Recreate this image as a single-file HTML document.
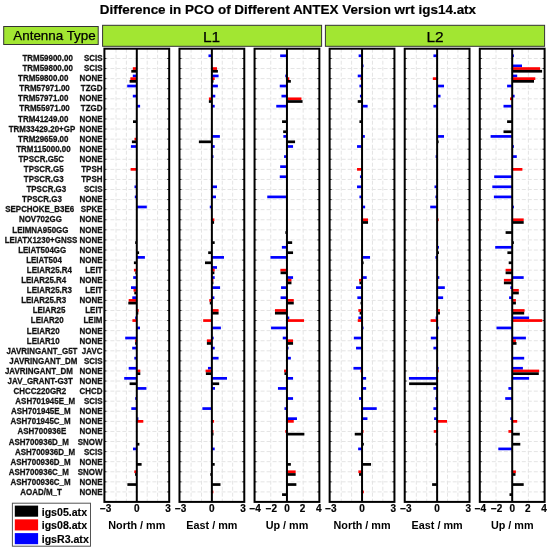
<!DOCTYPE html><html><head><meta charset="utf-8"><style>html,body{margin:0;padding:0;background:#fff;width:549px;height:550px;overflow:hidden}svg{display:block}text{font-family:"Liberation Sans",Arial,sans-serif}</style></head><body>
<svg width="549" height="550" viewBox="0 0 549 550">
<text x="99.8" y="13.9" font-size="13.6" font-weight="bold" fill="#000" stroke="#000" stroke-width="0.2" textLength="376.3" lengthAdjust="spacingAndGlyphs">Difference in PCO of Different ANTEX Version wrt igs14.atx</text>
<rect x="3.7" y="26.5" width="94.5" height="18" fill="#a2e632" stroke="#333" stroke-width="1"/>
<text x="54.5" y="39.8" font-size="13.4" text-anchor="middle" fill="#000" stroke="#000" stroke-width="0.25">Antenna Type</text>
<rect x="102.6" y="25.3" width="219" height="21" fill="#a2e632" stroke="#333" stroke-width="1"/>
<text x="211.6" y="41.6" font-size="15.5" text-anchor="middle" fill="#000" stroke="#000" stroke-width="0.25">L1</text>
<rect x="325.4" y="25.3" width="219.2" height="21" fill="#a2e632" stroke="#333" stroke-width="1"/>
<text x="435" y="41.6" font-size="15.5" text-anchor="middle" fill="#000" stroke="#000" stroke-width="0.25">L2</text>
<path d="M116 48.7V501.9M126.4 48.7V501.9M147.2 48.7V501.9M157.6 48.7V501.9M104.4 58.48H169.2M104.4 68.56H169.2M104.4 78.64H169.2M104.4 88.72H169.2M104.4 98.8H169.2M104.4 108.88H169.2M104.4 118.96H169.2M104.4 129.04H169.2M104.4 139.12H169.2M104.4 149.2H169.2M104.4 159.28H169.2M104.4 169.36H169.2M104.4 179.44H169.2M104.4 189.52H169.2M104.4 199.6H169.2M104.4 209.68H169.2M104.4 219.76H169.2M104.4 229.84H169.2M104.4 239.92H169.2M104.4 250H169.2M104.4 260.08H169.2M104.4 270.16H169.2M104.4 280.24H169.2M104.4 290.32H169.2M104.4 300.4H169.2M104.4 310.48H169.2M104.4 320.56H169.2M104.4 330.64H169.2M104.4 340.72H169.2M104.4 350.8H169.2M104.4 360.88H169.2M104.4 370.96H169.2M104.4 381.04H169.2M104.4 391.12H169.2M104.4 401.2H169.2M104.4 411.28H169.2M104.4 421.36H169.2M104.4 431.44H169.2M104.4 441.52H169.2M104.4 451.6H169.2M104.4 461.68H169.2M104.4 471.76H169.2M104.4 481.84H169.2M104.4 491.92H169.2" stroke="#e4e4e4" stroke-width="1" stroke-dasharray="4 2" fill="none"/>
<rect x="132.8" y="67.21" width="4" height="2.7" fill="#f00"/>
<rect x="131.3" y="69.91" width="5.5" height="2.7" fill="#000"/>
<rect x="132.8" y="74.59" width="4" height="2.7" fill="#00f"/>
<rect x="130.4" y="77.29" width="6.4" height="2.7" fill="#f00"/>
<rect x="129.6" y="79.99" width="7.2" height="2.7" fill="#000"/>
<rect x="127.2" y="84.67" width="9.6" height="2.7" fill="#00f"/>
<rect x="132.8" y="94.75" width="4" height="2.7" fill="#00f"/>
<rect x="136.8" y="104.83" width="3.3" height="2.7" fill="#00f"/>
<rect x="133" y="120.31" width="3.8" height="2.7" fill="#000"/>
<rect x="134.5" y="137.77" width="2.3" height="2.7" fill="#f00"/>
<rect x="131.9" y="140.47" width="4.9" height="2.7" fill="#000"/>
<rect x="130.9" y="145.15" width="5.9" height="2.7" fill="#00f"/>
<rect x="130.6" y="168.01" width="6.2" height="2.7" fill="#f00"/>
<rect x="134.5" y="185.47" width="2.3" height="2.7" fill="#00f"/>
<rect x="134.8" y="195.55" width="2" height="2.7" fill="#00f"/>
<rect x="136.8" y="205.63" width="10" height="2.7" fill="#00f"/>
<rect x="135.2" y="241.27" width="1.6" height="2.7" fill="#000"/>
<rect x="136.8" y="251.35" width="2.3" height="2.7" fill="#000"/>
<rect x="136.8" y="256.03" width="8.1" height="2.7" fill="#00f"/>
<rect x="133.9" y="261.43" width="2.9" height="2.7" fill="#000"/>
<rect x="133.9" y="268.81" width="2.9" height="2.7" fill="#f00"/>
<rect x="135.4" y="271.51" width="1.4" height="2.7" fill="#000"/>
<rect x="133.2" y="276.19" width="3.6" height="2.7" fill="#00f"/>
<rect x="131" y="286.27" width="5.8" height="2.7" fill="#00f"/>
<rect x="133.5" y="288.97" width="3.3" height="2.7" fill="#f00"/>
<rect x="134.3" y="291.67" width="2.5" height="2.7" fill="#000"/>
<rect x="132.3" y="296.35" width="4.5" height="2.7" fill="#00f"/>
<rect x="128.7" y="299.05" width="8.1" height="2.7" fill="#f00"/>
<rect x="128.3" y="301.75" width="8.5" height="2.7" fill="#000"/>
<rect x="136.8" y="309.13" width="1.9" height="2.7" fill="#f00"/>
<rect x="136.8" y="311.83" width="1.5" height="2.7" fill="#000"/>
<rect x="135.2" y="316.51" width="1.6" height="2.7" fill="#00f"/>
<rect x="132.4" y="319.21" width="4.4" height="2.7" fill="#f00"/>
<rect x="136.8" y="326.59" width="3.2" height="2.7" fill="#00f"/>
<rect x="125.2" y="336.67" width="11.6" height="2.7" fill="#00f"/>
<rect x="135.2" y="339.37" width="1.6" height="2.7" fill="#f00"/>
<rect x="135.2" y="342.07" width="1.6" height="2.7" fill="#000"/>
<rect x="132.2" y="346.75" width="4.6" height="2.7" fill="#00f"/>
<rect x="134.3" y="356.83" width="2.5" height="2.7" fill="#00f"/>
<rect x="128.7" y="366.91" width="8.1" height="2.7" fill="#00f"/>
<rect x="136.8" y="369.61" width="3.5" height="2.7" fill="#f00"/>
<rect x="136.8" y="372.31" width="3.5" height="2.7" fill="#000"/>
<rect x="124.2" y="376.99" width="12.6" height="2.7" fill="#00f"/>
<rect x="129.6" y="382.39" width="7.2" height="2.7" fill="#000"/>
<rect x="136.8" y="387.07" width="9.6" height="2.7" fill="#00f"/>
<rect x="135.2" y="397.15" width="1.6" height="2.7" fill="#00f"/>
<rect x="131.3" y="407.23" width="5.5" height="2.7" fill="#00f"/>
<rect x="136.8" y="417.31" width="1.6" height="2.7" fill="#00f"/>
<rect x="136.8" y="420.01" width="6.5" height="2.7" fill="#f00"/>
<rect x="136.8" y="442.87" width="2.6" height="2.7" fill="#000"/>
<rect x="133" y="447.55" width="3.8" height="2.7" fill="#00f"/>
<rect x="136.8" y="463.03" width="4.8" height="2.7" fill="#000"/>
<rect x="134.3" y="470.41" width="2.5" height="2.7" fill="#f00"/>
<rect x="135.1" y="473.11" width="1.7" height="2.7" fill="#000"/>
<rect x="127.4" y="483.19" width="9.4" height="2.7" fill="#000"/>
<path d="M104.4 58.48h2M169.2 58.48h-2M104.4 68.56h2M169.2 68.56h-2M104.4 78.64h2M169.2 78.64h-2M104.4 88.72h2M169.2 88.72h-2M104.4 98.8h2M169.2 98.8h-2M104.4 108.88h2M169.2 108.88h-2M104.4 118.96h2M169.2 118.96h-2M104.4 129.04h2M169.2 129.04h-2M104.4 139.12h2M169.2 139.12h-2M104.4 149.2h2M169.2 149.2h-2M104.4 159.28h2M169.2 159.28h-2M104.4 169.36h2M169.2 169.36h-2M104.4 179.44h2M169.2 179.44h-2M104.4 189.52h2M169.2 189.52h-2M104.4 199.6h2M169.2 199.6h-2M104.4 209.68h2M169.2 209.68h-2M104.4 219.76h2M169.2 219.76h-2M104.4 229.84h2M169.2 229.84h-2M104.4 239.92h2M169.2 239.92h-2M104.4 250h2M169.2 250h-2M104.4 260.08h2M169.2 260.08h-2M104.4 270.16h2M169.2 270.16h-2M104.4 280.24h2M169.2 280.24h-2M104.4 290.32h2M169.2 290.32h-2M104.4 300.4h2M169.2 300.4h-2M104.4 310.48h2M169.2 310.48h-2M104.4 320.56h2M169.2 320.56h-2M104.4 330.64h2M169.2 330.64h-2M104.4 340.72h2M169.2 340.72h-2M104.4 350.8h2M169.2 350.8h-2M104.4 360.88h2M169.2 360.88h-2M104.4 370.96h2M169.2 370.96h-2M104.4 381.04h2M169.2 381.04h-2M104.4 391.12h2M169.2 391.12h-2M104.4 401.2h2M169.2 401.2h-2M104.4 411.28h2M169.2 411.28h-2M104.4 421.36h2M169.2 421.36h-2M104.4 431.44h2M169.2 431.44h-2M104.4 441.52h2M169.2 441.52h-2M104.4 451.6h2M169.2 451.6h-2M104.4 461.68h2M169.2 461.68h-2M104.4 471.76h2M169.2 471.76h-2M104.4 481.84h2M169.2 481.84h-2M104.4 491.92h2M169.2 491.92h-2" stroke="#000" stroke-width="0.8" fill="none"/>
<path d="M136.8 48.7V501.9" stroke="#000" stroke-width="2"/>
<rect x="104.4" y="48.7" width="64.8" height="453.2" fill="none" stroke="#000" stroke-width="2"/>
<text x="105.6" y="512.3" font-size="10" font-weight="bold" text-anchor="middle" fill="#000" stroke="#000" stroke-width="0.2">−3</text>
<text x="136.8" y="512.3" font-size="10" font-weight="bold" text-anchor="middle" fill="#000" stroke="#000" stroke-width="0.2">0</text>
<text x="168" y="512.3" font-size="10" font-weight="bold" text-anchor="middle" fill="#000" stroke="#000" stroke-width="0.2">3</text>
<text x="136.8" y="529" font-size="10.8" font-weight="bold" text-anchor="middle" fill="#000">North / mm</text>
<path d="M191.08 48.7V501.9M201.48 48.7V501.9M222.28 48.7V501.9M232.68 48.7V501.9M179.48 58.48H244.28M179.48 68.56H244.28M179.48 78.64H244.28M179.48 88.72H244.28M179.48 98.8H244.28M179.48 108.88H244.28M179.48 118.96H244.28M179.48 129.04H244.28M179.48 139.12H244.28M179.48 149.2H244.28M179.48 159.28H244.28M179.48 169.36H244.28M179.48 179.44H244.28M179.48 189.52H244.28M179.48 199.6H244.28M179.48 209.68H244.28M179.48 219.76H244.28M179.48 229.84H244.28M179.48 239.92H244.28M179.48 250H244.28M179.48 260.08H244.28M179.48 270.16H244.28M179.48 280.24H244.28M179.48 290.32H244.28M179.48 300.4H244.28M179.48 310.48H244.28M179.48 320.56H244.28M179.48 330.64H244.28M179.48 340.72H244.28M179.48 350.8H244.28M179.48 360.88H244.28M179.48 370.96H244.28M179.48 381.04H244.28M179.48 391.12H244.28M179.48 401.2H244.28M179.48 411.28H244.28M179.48 421.36H244.28M179.48 431.44H244.28M179.48 441.52H244.28M179.48 451.6H244.28M179.48 461.68H244.28M179.48 471.76H244.28M179.48 481.84H244.28M179.48 491.92H244.28" stroke="#e4e4e4" stroke-width="1" stroke-dasharray="4 2" fill="none"/>
<rect x="208.48" y="54.43" width="3.4" height="2.7" fill="#00f"/>
<rect x="211.88" y="67.21" width="5.1" height="2.7" fill="#f00"/>
<rect x="211.88" y="69.91" width="6" height="2.7" fill="#000"/>
<rect x="211.88" y="74.59" width="6.7" height="2.7" fill="#00f"/>
<rect x="211.88" y="77.29" width="2.8" height="2.7" fill="#f00"/>
<rect x="211.88" y="79.99" width="1.6" height="2.7" fill="#000"/>
<rect x="211.88" y="84.67" width="6" height="2.7" fill="#00f"/>
<rect x="211.88" y="94.75" width="3.4" height="2.7" fill="#00f"/>
<rect x="208.88" y="97.45" width="3" height="2.7" fill="#f00"/>
<rect x="208.88" y="100.15" width="3" height="2.7" fill="#000"/>
<rect x="211.88" y="104.83" width="2.8" height="2.7" fill="#00f"/>
<rect x="211.88" y="135.07" width="8" height="2.7" fill="#00f"/>
<rect x="198.88" y="140.47" width="13" height="2.7" fill="#000"/>
<rect x="211.88" y="145.15" width="2.8" height="2.7" fill="#00f"/>
<rect x="211.88" y="155.23" width="1.6" height="2.7" fill="#00f"/>
<rect x="211.88" y="185.47" width="5.1" height="2.7" fill="#00f"/>
<rect x="211.88" y="195.55" width="4.1" height="2.7" fill="#00f"/>
<rect x="209.78" y="205.63" width="2.1" height="2.7" fill="#00f"/>
<rect x="211.88" y="218.41" width="2.5" height="2.7" fill="#f00"/>
<rect x="211.88" y="221.11" width="2.2" height="2.7" fill="#000"/>
<rect x="211.88" y="241.27" width="2.8" height="2.7" fill="#000"/>
<rect x="208.18" y="251.35" width="3.7" height="2.7" fill="#000"/>
<rect x="211.88" y="256.03" width="12.1" height="2.7" fill="#00f"/>
<rect x="204.98" y="261.43" width="6.9" height="2.7" fill="#000"/>
<rect x="211.88" y="266.11" width="5.1" height="2.7" fill="#00f"/>
<rect x="211.88" y="268.81" width="2.8" height="2.7" fill="#f00"/>
<rect x="211.88" y="271.51" width="2.5" height="2.7" fill="#000"/>
<rect x="211.88" y="276.19" width="2.8" height="2.7" fill="#00f"/>
<rect x="211.88" y="278.89" width="1.5" height="2.7" fill="#f00"/>
<rect x="211.88" y="281.59" width="1.5" height="2.7" fill="#000"/>
<rect x="211.88" y="286.27" width="8.2" height="2.7" fill="#00f"/>
<rect x="211.88" y="296.35" width="2.5" height="2.7" fill="#00f"/>
<rect x="209.28" y="299.05" width="2.6" height="2.7" fill="#f00"/>
<rect x="209.78" y="301.75" width="2.1" height="2.7" fill="#000"/>
<rect x="211.88" y="309.13" width="6.7" height="2.7" fill="#f00"/>
<rect x="211.88" y="311.83" width="6.7" height="2.7" fill="#000"/>
<rect x="203.18" y="319.21" width="8.7" height="2.7" fill="#f00"/>
<rect x="211.88" y="326.59" width="9" height="2.7" fill="#00f"/>
<rect x="211.88" y="336.67" width="1.8" height="2.7" fill="#00f"/>
<rect x="206.88" y="339.37" width="5" height="2.7" fill="#f00"/>
<rect x="206.88" y="342.07" width="5" height="2.7" fill="#000"/>
<rect x="211.88" y="346.75" width="2.8" height="2.7" fill="#00f"/>
<rect x="211.88" y="356.83" width="6.7" height="2.7" fill="#00f"/>
<rect x="207.98" y="366.91" width="3.9" height="2.7" fill="#00f"/>
<rect x="205.58" y="369.61" width="6.3" height="2.7" fill="#f00"/>
<rect x="205.88" y="372.31" width="6" height="2.7" fill="#000"/>
<rect x="211.88" y="376.99" width="15.1" height="2.7" fill="#00f"/>
<rect x="211.88" y="382.39" width="7.3" height="2.7" fill="#000"/>
<rect x="211.88" y="387.07" width="3.1" height="2.7" fill="#00f"/>
<rect x="202.38" y="407.23" width="9.5" height="2.7" fill="#00f"/>
<rect x="211.88" y="420.01" width="2.2" height="2.7" fill="#f00"/>
<rect x="211.88" y="430.09" width="1.6" height="2.7" fill="#f00"/>
<rect x="211.88" y="432.79" width="1.6" height="2.7" fill="#000"/>
<rect x="211.88" y="447.55" width="2.8" height="2.7" fill="#00f"/>
<rect x="211.88" y="463.03" width="2.8" height="2.7" fill="#000"/>
<rect x="210.28" y="473.11" width="1.6" height="2.7" fill="#000"/>
<rect x="211.88" y="483.19" width="8.6" height="2.7" fill="#000"/>
<rect x="211.88" y="490.57" width="1.5" height="2.7" fill="#f00"/>
<path d="M179.48 58.48h2M244.28 58.48h-2M179.48 68.56h2M244.28 68.56h-2M179.48 78.64h2M244.28 78.64h-2M179.48 88.72h2M244.28 88.72h-2M179.48 98.8h2M244.28 98.8h-2M179.48 108.88h2M244.28 108.88h-2M179.48 118.96h2M244.28 118.96h-2M179.48 129.04h2M244.28 129.04h-2M179.48 139.12h2M244.28 139.12h-2M179.48 149.2h2M244.28 149.2h-2M179.48 159.28h2M244.28 159.28h-2M179.48 169.36h2M244.28 169.36h-2M179.48 179.44h2M244.28 179.44h-2M179.48 189.52h2M244.28 189.52h-2M179.48 199.6h2M244.28 199.6h-2M179.48 209.68h2M244.28 209.68h-2M179.48 219.76h2M244.28 219.76h-2M179.48 229.84h2M244.28 229.84h-2M179.48 239.92h2M244.28 239.92h-2M179.48 250h2M244.28 250h-2M179.48 260.08h2M244.28 260.08h-2M179.48 270.16h2M244.28 270.16h-2M179.48 280.24h2M244.28 280.24h-2M179.48 290.32h2M244.28 290.32h-2M179.48 300.4h2M244.28 300.4h-2M179.48 310.48h2M244.28 310.48h-2M179.48 320.56h2M244.28 320.56h-2M179.48 330.64h2M244.28 330.64h-2M179.48 340.72h2M244.28 340.72h-2M179.48 350.8h2M244.28 350.8h-2M179.48 360.88h2M244.28 360.88h-2M179.48 370.96h2M244.28 370.96h-2M179.48 381.04h2M244.28 381.04h-2M179.48 391.12h2M244.28 391.12h-2M179.48 401.2h2M244.28 401.2h-2M179.48 411.28h2M244.28 411.28h-2M179.48 421.36h2M244.28 421.36h-2M179.48 431.44h2M244.28 431.44h-2M179.48 441.52h2M244.28 441.52h-2M179.48 451.6h2M244.28 451.6h-2M179.48 461.68h2M244.28 461.68h-2M179.48 471.76h2M244.28 471.76h-2M179.48 481.84h2M244.28 481.84h-2M179.48 491.92h2M244.28 491.92h-2" stroke="#000" stroke-width="0.8" fill="none"/>
<path d="M211.88 48.7V501.9" stroke="#000" stroke-width="2"/>
<rect x="179.48" y="48.7" width="64.8" height="453.2" fill="none" stroke="#000" stroke-width="2"/>
<text x="180.68" y="512.3" font-size="10" font-weight="bold" text-anchor="middle" fill="#000" stroke="#000" stroke-width="0.2">−3</text>
<text x="211.88" y="512.3" font-size="10" font-weight="bold" text-anchor="middle" fill="#000" stroke="#000" stroke-width="0.2">0</text>
<text x="243.08" y="512.3" font-size="10" font-weight="bold" text-anchor="middle" fill="#000" stroke="#000" stroke-width="0.2">3</text>
<text x="211.88" y="529" font-size="10.8" font-weight="bold" text-anchor="middle" fill="#000">East / mm</text>
<path d="M270.76 48.7V501.9M303.16 48.7V501.9M254.56 58.48H319.36M254.56 68.56H319.36M254.56 78.64H319.36M254.56 88.72H319.36M254.56 98.8H319.36M254.56 108.88H319.36M254.56 118.96H319.36M254.56 129.04H319.36M254.56 139.12H319.36M254.56 149.2H319.36M254.56 159.28H319.36M254.56 169.36H319.36M254.56 179.44H319.36M254.56 189.52H319.36M254.56 199.6H319.36M254.56 209.68H319.36M254.56 219.76H319.36M254.56 229.84H319.36M254.56 239.92H319.36M254.56 250H319.36M254.56 260.08H319.36M254.56 270.16H319.36M254.56 280.24H319.36M254.56 290.32H319.36M254.56 300.4H319.36M254.56 310.48H319.36M254.56 320.56H319.36M254.56 330.64H319.36M254.56 340.72H319.36M254.56 350.8H319.36M254.56 360.88H319.36M254.56 370.96H319.36M254.56 381.04H319.36M254.56 391.12H319.36M254.56 401.2H319.36M254.56 411.28H319.36M254.56 421.36H319.36M254.56 431.44H319.36M254.56 441.52H319.36M254.56 451.6H319.36M254.56 461.68H319.36M254.56 471.76H319.36M254.56 481.84H319.36M254.56 491.92H319.36" stroke="#e4e4e4" stroke-width="1" stroke-dasharray="4 2" fill="none"/>
<rect x="280.16" y="54.43" width="6.8" height="2.7" fill="#00f"/>
<rect x="285.26" y="74.59" width="1.7" height="2.7" fill="#00f"/>
<rect x="286.96" y="77.29" width="2.3" height="2.7" fill="#f00"/>
<rect x="286.96" y="79.99" width="3.9" height="2.7" fill="#000"/>
<rect x="279.76" y="84.67" width="7.2" height="2.7" fill="#00f"/>
<rect x="281.46" y="94.75" width="5.5" height="2.7" fill="#00f"/>
<rect x="286.96" y="97.45" width="14.5" height="2.7" fill="#f00"/>
<rect x="286.96" y="100.15" width="15.6" height="2.7" fill="#000"/>
<rect x="276.26" y="104.83" width="10.7" height="2.7" fill="#00f"/>
<rect x="282.06" y="120.31" width="4.9" height="2.7" fill="#000"/>
<rect x="283.16" y="130.39" width="3.8" height="2.7" fill="#000"/>
<rect x="283.36" y="135.07" width="3.6" height="2.7" fill="#00f"/>
<rect x="286.96" y="140.47" width="8.1" height="2.7" fill="#000"/>
<rect x="286.96" y="145.15" width="6.1" height="2.7" fill="#00f"/>
<rect x="284.06" y="155.23" width="2.9" height="2.7" fill="#00f"/>
<rect x="280.16" y="165.31" width="6.8" height="2.7" fill="#00f"/>
<rect x="279.76" y="175.39" width="7.2" height="2.7" fill="#00f"/>
<rect x="267.26" y="195.55" width="19.7" height="2.7" fill="#00f"/>
<rect x="285.36" y="231.19" width="1.6" height="2.7" fill="#000"/>
<rect x="286.96" y="241.27" width="5.2" height="2.7" fill="#000"/>
<rect x="281.86" y="245.95" width="5.1" height="2.7" fill="#00f"/>
<rect x="286.96" y="251.35" width="6.1" height="2.7" fill="#000"/>
<rect x="270.46" y="256.03" width="16.5" height="2.7" fill="#00f"/>
<rect x="280.36" y="268.81" width="6.6" height="2.7" fill="#f00"/>
<rect x="280.56" y="271.51" width="6.4" height="2.7" fill="#000"/>
<rect x="286.96" y="276.19" width="6.1" height="2.7" fill="#00f"/>
<rect x="286.96" y="278.89" width="4.5" height="2.7" fill="#f00"/>
<rect x="286.96" y="281.59" width="4.5" height="2.7" fill="#000"/>
<rect x="281.06" y="286.27" width="5.9" height="2.7" fill="#00f"/>
<rect x="280.56" y="296.35" width="6.4" height="2.7" fill="#00f"/>
<rect x="286.96" y="299.05" width="6.8" height="2.7" fill="#f00"/>
<rect x="286.96" y="301.75" width="6.8" height="2.7" fill="#000"/>
<rect x="274.96" y="309.13" width="12" height="2.7" fill="#f00"/>
<rect x="274.96" y="311.83" width="12" height="2.7" fill="#000"/>
<rect x="286.96" y="316.51" width="2.3" height="2.7" fill="#00f"/>
<rect x="286.96" y="319.21" width="17.1" height="2.7" fill="#f00"/>
<rect x="271.06" y="326.59" width="15.9" height="2.7" fill="#00f"/>
<rect x="282.76" y="336.67" width="4.2" height="2.7" fill="#00f"/>
<rect x="286.96" y="339.37" width="6.1" height="2.7" fill="#f00"/>
<rect x="286.96" y="342.07" width="6.1" height="2.7" fill="#000"/>
<rect x="286.96" y="346.75" width="1.6" height="2.7" fill="#00f"/>
<rect x="286.96" y="356.83" width="3.9" height="2.7" fill="#00f"/>
<rect x="284.06" y="369.61" width="2.9" height="2.7" fill="#f00"/>
<rect x="284.46" y="372.31" width="2.5" height="2.7" fill="#000"/>
<rect x="286.96" y="376.99" width="6.1" height="2.7" fill="#00f"/>
<rect x="277.96" y="387.07" width="9" height="2.7" fill="#00f"/>
<rect x="286.96" y="397.15" width="6.1" height="2.7" fill="#00f"/>
<rect x="284.46" y="407.23" width="2.5" height="2.7" fill="#00f"/>
<rect x="286.96" y="417.31" width="10" height="2.7" fill="#00f"/>
<rect x="286.96" y="420.01" width="6.8" height="2.7" fill="#f00"/>
<rect x="285.26" y="430.09" width="1.7" height="2.7" fill="#f00"/>
<rect x="286.96" y="432.79" width="17.4" height="2.7" fill="#000"/>
<rect x="286.96" y="463.03" width="3.9" height="2.7" fill="#000"/>
<rect x="286.96" y="470.41" width="8.7" height="2.7" fill="#f00"/>
<rect x="286.96" y="473.11" width="8.7" height="2.7" fill="#000"/>
<rect x="286.96" y="483.19" width="9.4" height="2.7" fill="#000"/>
<rect x="282.06" y="493.27" width="4.9" height="2.7" fill="#000"/>
<path d="M254.56 58.48h2M319.36 58.48h-2M254.56 68.56h2M319.36 68.56h-2M254.56 78.64h2M319.36 78.64h-2M254.56 88.72h2M319.36 88.72h-2M254.56 98.8h2M319.36 98.8h-2M254.56 108.88h2M319.36 108.88h-2M254.56 118.96h2M319.36 118.96h-2M254.56 129.04h2M319.36 129.04h-2M254.56 139.12h2M319.36 139.12h-2M254.56 149.2h2M319.36 149.2h-2M254.56 159.28h2M319.36 159.28h-2M254.56 169.36h2M319.36 169.36h-2M254.56 179.44h2M319.36 179.44h-2M254.56 189.52h2M319.36 189.52h-2M254.56 199.6h2M319.36 199.6h-2M254.56 209.68h2M319.36 209.68h-2M254.56 219.76h2M319.36 219.76h-2M254.56 229.84h2M319.36 229.84h-2M254.56 239.92h2M319.36 239.92h-2M254.56 250h2M319.36 250h-2M254.56 260.08h2M319.36 260.08h-2M254.56 270.16h2M319.36 270.16h-2M254.56 280.24h2M319.36 280.24h-2M254.56 290.32h2M319.36 290.32h-2M254.56 300.4h2M319.36 300.4h-2M254.56 310.48h2M319.36 310.48h-2M254.56 320.56h2M319.36 320.56h-2M254.56 330.64h2M319.36 330.64h-2M254.56 340.72h2M319.36 340.72h-2M254.56 350.8h2M319.36 350.8h-2M254.56 360.88h2M319.36 360.88h-2M254.56 370.96h2M319.36 370.96h-2M254.56 381.04h2M319.36 381.04h-2M254.56 391.12h2M319.36 391.12h-2M254.56 401.2h2M319.36 401.2h-2M254.56 411.28h2M319.36 411.28h-2M254.56 421.36h2M319.36 421.36h-2M254.56 431.44h2M319.36 431.44h-2M254.56 441.52h2M319.36 441.52h-2M254.56 451.6h2M319.36 451.6h-2M254.56 461.68h2M319.36 461.68h-2M254.56 471.76h2M319.36 471.76h-2M254.56 481.84h2M319.36 481.84h-2M254.56 491.92h2M319.36 491.92h-2" stroke="#000" stroke-width="0.8" fill="none"/>
<path d="M286.96 48.7V501.9" stroke="#000" stroke-width="2"/>
<rect x="254.56" y="48.7" width="64.8" height="453.2" fill="none" stroke="#000" stroke-width="2"/>
<text x="255.16" y="512.3" font-size="10" font-weight="bold" text-anchor="middle" fill="#000" stroke="#000" stroke-width="0.2">−4</text>
<text x="271.36" y="512.3" font-size="10" font-weight="bold" text-anchor="middle" fill="#000" stroke="#000" stroke-width="0.2">−2</text>
<text x="286.96" y="512.3" font-size="10" font-weight="bold" text-anchor="middle" fill="#000" stroke="#000" stroke-width="0.2">0</text>
<text x="302.56" y="512.3" font-size="10" font-weight="bold" text-anchor="middle" fill="#000" stroke="#000" stroke-width="0.2">2</text>
<text x="318.76" y="512.3" font-size="10" font-weight="bold" text-anchor="middle" fill="#000" stroke="#000" stroke-width="0.2">4</text>
<text x="286.96" y="529" font-size="10.8" font-weight="bold" text-anchor="middle" fill="#000">Up / mm</text>
<path d="M341.24 48.7V501.9M351.64 48.7V501.9M372.44 48.7V501.9M382.84 48.7V501.9M329.64 58.48H394.44M329.64 68.56H394.44M329.64 78.64H394.44M329.64 88.72H394.44M329.64 98.8H394.44M329.64 108.88H394.44M329.64 118.96H394.44M329.64 129.04H394.44M329.64 139.12H394.44M329.64 149.2H394.44M329.64 159.28H394.44M329.64 169.36H394.44M329.64 179.44H394.44M329.64 189.52H394.44M329.64 199.6H394.44M329.64 209.68H394.44M329.64 219.76H394.44M329.64 229.84H394.44M329.64 239.92H394.44M329.64 250H394.44M329.64 260.08H394.44M329.64 270.16H394.44M329.64 280.24H394.44M329.64 290.32H394.44M329.64 300.4H394.44M329.64 310.48H394.44M329.64 320.56H394.44M329.64 330.64H394.44M329.64 340.72H394.44M329.64 350.8H394.44M329.64 360.88H394.44M329.64 370.96H394.44M329.64 381.04H394.44M329.64 391.12H394.44M329.64 401.2H394.44M329.64 411.28H394.44M329.64 421.36H394.44M329.64 431.44H394.44M329.64 441.52H394.44M329.64 451.6H394.44M329.64 461.68H394.44M329.64 471.76H394.44M329.64 481.84H394.44M329.64 491.92H394.44" stroke="#e4e4e4" stroke-width="1" stroke-dasharray="4 2" fill="none"/>
<rect x="358.64" y="54.43" width="3.4" height="2.7" fill="#00f"/>
<rect x="362.04" y="64.51" width="1.5" height="2.7" fill="#00f"/>
<rect x="357.74" y="74.59" width="4.3" height="2.7" fill="#00f"/>
<rect x="360.54" y="77.29" width="1.5" height="2.7" fill="#f00"/>
<rect x="359.44" y="84.67" width="2.6" height="2.7" fill="#00f"/>
<rect x="359.94" y="94.75" width="2.1" height="2.7" fill="#00f"/>
<rect x="357.74" y="100.15" width="4.3" height="2.7" fill="#000"/>
<rect x="362.04" y="104.83" width="5.6" height="2.7" fill="#00f"/>
<rect x="359.44" y="120.31" width="2.6" height="2.7" fill="#000"/>
<rect x="362.04" y="135.07" width="2.8" height="2.7" fill="#00f"/>
<rect x="357.04" y="145.15" width="5" height="2.7" fill="#00f"/>
<rect x="357.04" y="168.01" width="5" height="2.7" fill="#f00"/>
<rect x="359.94" y="175.39" width="2.1" height="2.7" fill="#00f"/>
<rect x="357.04" y="185.47" width="5" height="2.7" fill="#00f"/>
<rect x="359.44" y="195.55" width="2.6" height="2.7" fill="#00f"/>
<rect x="362.04" y="205.63" width="3.1" height="2.7" fill="#00f"/>
<rect x="362.04" y="218.41" width="6" height="2.7" fill="#f00"/>
<rect x="362.04" y="221.11" width="6" height="2.7" fill="#000"/>
<rect x="362.04" y="256.03" width="8" height="2.7" fill="#00f"/>
<rect x="362.04" y="261.43" width="1.6" height="2.7" fill="#000"/>
<rect x="362.04" y="276.19" width="4.7" height="2.7" fill="#00f"/>
<rect x="359.04" y="278.89" width="3" height="2.7" fill="#f00"/>
<rect x="359.44" y="281.59" width="2.6" height="2.7" fill="#000"/>
<rect x="356.04" y="286.27" width="6" height="2.7" fill="#00f"/>
<rect x="357.34" y="296.35" width="4.7" height="2.7" fill="#00f"/>
<rect x="360.54" y="301.75" width="1.5" height="2.7" fill="#000"/>
<rect x="358.34" y="309.13" width="3.7" height="2.7" fill="#f00"/>
<rect x="359.64" y="311.83" width="2.4" height="2.7" fill="#000"/>
<rect x="358.34" y="316.51" width="3.7" height="2.7" fill="#00f"/>
<rect x="357.74" y="319.21" width="4.3" height="2.7" fill="#f00"/>
<rect x="362.04" y="326.59" width="1.5" height="2.7" fill="#00f"/>
<rect x="353.84" y="336.67" width="8.2" height="2.7" fill="#00f"/>
<rect x="356.04" y="346.75" width="6" height="2.7" fill="#00f"/>
<rect x="353.44" y="366.91" width="8.6" height="2.7" fill="#00f"/>
<rect x="360.54" y="369.61" width="1.5" height="2.7" fill="#f00"/>
<rect x="362.04" y="376.99" width="4.1" height="2.7" fill="#00f"/>
<rect x="362.04" y="387.07" width="4.1" height="2.7" fill="#00f"/>
<rect x="359.04" y="397.15" width="3" height="2.7" fill="#00f"/>
<rect x="362.04" y="407.23" width="14.7" height="2.7" fill="#00f"/>
<rect x="362.04" y="417.31" width="5.4" height="2.7" fill="#00f"/>
<rect x="354.74" y="432.79" width="7.3" height="2.7" fill="#000"/>
<rect x="362.04" y="430.09" width="1.5" height="2.7" fill="#f00"/>
<rect x="362.04" y="442.87" width="1.8" height="2.7" fill="#000"/>
<rect x="358.14" y="447.55" width="3.9" height="2.7" fill="#00f"/>
<rect x="362.04" y="463.03" width="9" height="2.7" fill="#000"/>
<rect x="358.34" y="470.41" width="3.7" height="2.7" fill="#f00"/>
<rect x="359.04" y="473.11" width="3" height="2.7" fill="#000"/>
<rect x="362.04" y="490.57" width="1.8" height="2.7" fill="#f00"/>
<path d="M329.64 58.48h2M394.44 58.48h-2M329.64 68.56h2M394.44 68.56h-2M329.64 78.64h2M394.44 78.64h-2M329.64 88.72h2M394.44 88.72h-2M329.64 98.8h2M394.44 98.8h-2M329.64 108.88h2M394.44 108.88h-2M329.64 118.96h2M394.44 118.96h-2M329.64 129.04h2M394.44 129.04h-2M329.64 139.12h2M394.44 139.12h-2M329.64 149.2h2M394.44 149.2h-2M329.64 159.28h2M394.44 159.28h-2M329.64 169.36h2M394.44 169.36h-2M329.64 179.44h2M394.44 179.44h-2M329.64 189.52h2M394.44 189.52h-2M329.64 199.6h2M394.44 199.6h-2M329.64 209.68h2M394.44 209.68h-2M329.64 219.76h2M394.44 219.76h-2M329.64 229.84h2M394.44 229.84h-2M329.64 239.92h2M394.44 239.92h-2M329.64 250h2M394.44 250h-2M329.64 260.08h2M394.44 260.08h-2M329.64 270.16h2M394.44 270.16h-2M329.64 280.24h2M394.44 280.24h-2M329.64 290.32h2M394.44 290.32h-2M329.64 300.4h2M394.44 300.4h-2M329.64 310.48h2M394.44 310.48h-2M329.64 320.56h2M394.44 320.56h-2M329.64 330.64h2M394.44 330.64h-2M329.64 340.72h2M394.44 340.72h-2M329.64 350.8h2M394.44 350.8h-2M329.64 360.88h2M394.44 360.88h-2M329.64 370.96h2M394.44 370.96h-2M329.64 381.04h2M394.44 381.04h-2M329.64 391.12h2M394.44 391.12h-2M329.64 401.2h2M394.44 401.2h-2M329.64 411.28h2M394.44 411.28h-2M329.64 421.36h2M394.44 421.36h-2M329.64 431.44h2M394.44 431.44h-2M329.64 441.52h2M394.44 441.52h-2M329.64 451.6h2M394.44 451.6h-2M329.64 461.68h2M394.44 461.68h-2M329.64 471.76h2M394.44 471.76h-2M329.64 481.84h2M394.44 481.84h-2M329.64 491.92h2M394.44 491.92h-2" stroke="#000" stroke-width="0.8" fill="none"/>
<path d="M362.04 48.7V501.9" stroke="#000" stroke-width="2"/>
<rect x="329.64" y="48.7" width="64.8" height="453.2" fill="none" stroke="#000" stroke-width="2"/>
<text x="330.84" y="512.3" font-size="10" font-weight="bold" text-anchor="middle" fill="#000" stroke="#000" stroke-width="0.2">−3</text>
<text x="362.04" y="512.3" font-size="10" font-weight="bold" text-anchor="middle" fill="#000" stroke="#000" stroke-width="0.2">0</text>
<text x="393.24" y="512.3" font-size="10" font-weight="bold" text-anchor="middle" fill="#000" stroke="#000" stroke-width="0.2">3</text>
<text x="362.04" y="529" font-size="10.8" font-weight="bold" text-anchor="middle" fill="#000">North / mm</text>
<path d="M416.32 48.7V501.9M426.72 48.7V501.9M447.52 48.7V501.9M457.92 48.7V501.9M404.72 58.48H469.52M404.72 68.56H469.52M404.72 78.64H469.52M404.72 88.72H469.52M404.72 98.8H469.52M404.72 108.88H469.52M404.72 118.96H469.52M404.72 129.04H469.52M404.72 139.12H469.52M404.72 149.2H469.52M404.72 159.28H469.52M404.72 169.36H469.52M404.72 179.44H469.52M404.72 189.52H469.52M404.72 199.6H469.52M404.72 209.68H469.52M404.72 219.76H469.52M404.72 229.84H469.52M404.72 239.92H469.52M404.72 250H469.52M404.72 260.08H469.52M404.72 270.16H469.52M404.72 280.24H469.52M404.72 290.32H469.52M404.72 300.4H469.52M404.72 310.48H469.52M404.72 320.56H469.52M404.72 330.64H469.52M404.72 340.72H469.52M404.72 350.8H469.52M404.72 360.88H469.52M404.72 370.96H469.52M404.72 381.04H469.52M404.72 391.12H469.52M404.72 401.2H469.52M404.72 411.28H469.52M404.72 421.36H469.52M404.72 431.44H469.52M404.72 441.52H469.52M404.72 451.6H469.52M404.72 461.68H469.52M404.72 471.76H469.52M404.72 481.84H469.52M404.72 491.92H469.52" stroke="#e4e4e4" stroke-width="1" stroke-dasharray="4 2" fill="none"/>
<rect x="433.42" y="54.43" width="3.7" height="2.7" fill="#00f"/>
<rect x="432.82" y="77.29" width="4.3" height="2.7" fill="#f00"/>
<rect x="437.12" y="84.67" width="6.9" height="2.7" fill="#00f"/>
<rect x="437.12" y="94.75" width="3.4" height="2.7" fill="#00f"/>
<rect x="433.42" y="104.83" width="3.7" height="2.7" fill="#00f"/>
<rect x="437.12" y="135.07" width="6.9" height="2.7" fill="#00f"/>
<rect x="437.12" y="140.47" width="1.5" height="2.7" fill="#000"/>
<rect x="435.62" y="155.23" width="1.5" height="2.7" fill="#00f"/>
<rect x="434.52" y="185.47" width="2.6" height="2.7" fill="#00f"/>
<rect x="435.42" y="195.55" width="1.7" height="2.7" fill="#00f"/>
<rect x="430.22" y="205.63" width="6.9" height="2.7" fill="#00f"/>
<rect x="437.12" y="218.41" width="1.5" height="2.7" fill="#f00"/>
<rect x="437.12" y="245.95" width="1.8" height="2.7" fill="#00f"/>
<rect x="437.12" y="251.35" width="1.8" height="2.7" fill="#000"/>
<rect x="435.42" y="256.03" width="1.7" height="2.7" fill="#00f"/>
<rect x="437.12" y="276.19" width="2.2" height="2.7" fill="#00f"/>
<rect x="437.12" y="286.27" width="7.7" height="2.7" fill="#00f"/>
<rect x="437.12" y="296.35" width="6" height="2.7" fill="#00f"/>
<rect x="437.12" y="309.13" width="2.8" height="2.7" fill="#f00"/>
<rect x="437.12" y="311.83" width="2.8" height="2.7" fill="#000"/>
<rect x="435.62" y="316.51" width="1.5" height="2.7" fill="#00f"/>
<rect x="430.62" y="319.21" width="6.5" height="2.7" fill="#f00"/>
<rect x="437.12" y="326.59" width="1.6" height="2.7" fill="#00f"/>
<rect x="430.82" y="336.67" width="6.3" height="2.7" fill="#00f"/>
<rect x="433.42" y="346.75" width="3.7" height="2.7" fill="#00f"/>
<rect x="437.12" y="366.91" width="1.5" height="2.7" fill="#00f"/>
<rect x="437.12" y="369.61" width="1.5" height="2.7" fill="#f00"/>
<rect x="408.92" y="376.99" width="28.2" height="2.7" fill="#00f"/>
<rect x="409.12" y="382.39" width="28" height="2.7" fill="#000"/>
<rect x="433.42" y="387.07" width="3.7" height="2.7" fill="#00f"/>
<rect x="435.42" y="397.15" width="1.7" height="2.7" fill="#00f"/>
<rect x="433.42" y="407.23" width="3.7" height="2.7" fill="#00f"/>
<rect x="434.12" y="417.31" width="3" height="2.7" fill="#00f"/>
<rect x="437.12" y="420.01" width="9.9" height="2.7" fill="#f00"/>
<rect x="433.72" y="430.09" width="3.4" height="2.7" fill="#f00"/>
<rect x="435.62" y="442.87" width="1.5" height="2.7" fill="#000"/>
<rect x="432.12" y="483.19" width="5" height="2.7" fill="#000"/>
<path d="M404.72 58.48h2M469.52 58.48h-2M404.72 68.56h2M469.52 68.56h-2M404.72 78.64h2M469.52 78.64h-2M404.72 88.72h2M469.52 88.72h-2M404.72 98.8h2M469.52 98.8h-2M404.72 108.88h2M469.52 108.88h-2M404.72 118.96h2M469.52 118.96h-2M404.72 129.04h2M469.52 129.04h-2M404.72 139.12h2M469.52 139.12h-2M404.72 149.2h2M469.52 149.2h-2M404.72 159.28h2M469.52 159.28h-2M404.72 169.36h2M469.52 169.36h-2M404.72 179.44h2M469.52 179.44h-2M404.72 189.52h2M469.52 189.52h-2M404.72 199.6h2M469.52 199.6h-2M404.72 209.68h2M469.52 209.68h-2M404.72 219.76h2M469.52 219.76h-2M404.72 229.84h2M469.52 229.84h-2M404.72 239.92h2M469.52 239.92h-2M404.72 250h2M469.52 250h-2M404.72 260.08h2M469.52 260.08h-2M404.72 270.16h2M469.52 270.16h-2M404.72 280.24h2M469.52 280.24h-2M404.72 290.32h2M469.52 290.32h-2M404.72 300.4h2M469.52 300.4h-2M404.72 310.48h2M469.52 310.48h-2M404.72 320.56h2M469.52 320.56h-2M404.72 330.64h2M469.52 330.64h-2M404.72 340.72h2M469.52 340.72h-2M404.72 350.8h2M469.52 350.8h-2M404.72 360.88h2M469.52 360.88h-2M404.72 370.96h2M469.52 370.96h-2M404.72 381.04h2M469.52 381.04h-2M404.72 391.12h2M469.52 391.12h-2M404.72 401.2h2M469.52 401.2h-2M404.72 411.28h2M469.52 411.28h-2M404.72 421.36h2M469.52 421.36h-2M404.72 431.44h2M469.52 431.44h-2M404.72 441.52h2M469.52 441.52h-2M404.72 451.6h2M469.52 451.6h-2M404.72 461.68h2M469.52 461.68h-2M404.72 471.76h2M469.52 471.76h-2M404.72 481.84h2M469.52 481.84h-2M404.72 491.92h2M469.52 491.92h-2" stroke="#000" stroke-width="0.8" fill="none"/>
<path d="M437.12 48.7V501.9" stroke="#000" stroke-width="2"/>
<rect x="404.72" y="48.7" width="64.8" height="453.2" fill="none" stroke="#000" stroke-width="2"/>
<text x="405.92" y="512.3" font-size="10" font-weight="bold" text-anchor="middle" fill="#000" stroke="#000" stroke-width="0.2">−3</text>
<text x="437.12" y="512.3" font-size="10" font-weight="bold" text-anchor="middle" fill="#000" stroke="#000" stroke-width="0.2">0</text>
<text x="468.32" y="512.3" font-size="10" font-weight="bold" text-anchor="middle" fill="#000" stroke="#000" stroke-width="0.2">3</text>
<text x="437.12" y="529" font-size="10.8" font-weight="bold" text-anchor="middle" fill="#000">East / mm</text>
<path d="M496 48.7V501.9M528.4 48.7V501.9M479.8 58.48H544.6M479.8 68.56H544.6M479.8 78.64H544.6M479.8 88.72H544.6M479.8 98.8H544.6M479.8 108.88H544.6M479.8 118.96H544.6M479.8 129.04H544.6M479.8 139.12H544.6M479.8 149.2H544.6M479.8 159.28H544.6M479.8 169.36H544.6M479.8 179.44H544.6M479.8 189.52H544.6M479.8 199.6H544.6M479.8 209.68H544.6M479.8 219.76H544.6M479.8 229.84H544.6M479.8 239.92H544.6M479.8 250H544.6M479.8 260.08H544.6M479.8 270.16H544.6M479.8 280.24H544.6M479.8 290.32H544.6M479.8 300.4H544.6M479.8 310.48H544.6M479.8 320.56H544.6M479.8 330.64H544.6M479.8 340.72H544.6M479.8 350.8H544.6M479.8 360.88H544.6M479.8 370.96H544.6M479.8 381.04H544.6M479.8 391.12H544.6M479.8 401.2H544.6M479.8 411.28H544.6M479.8 421.36H544.6M479.8 431.44H544.6M479.8 441.52H544.6M479.8 451.6H544.6M479.8 461.68H544.6M479.8 471.76H544.6M479.8 481.84H544.6M479.8 491.92H544.6" stroke="#e4e4e4" stroke-width="1" stroke-dasharray="4 2" fill="none"/>
<rect x="512.2" y="54.43" width="1.7" height="2.7" fill="#00f"/>
<rect x="512.2" y="64.51" width="9.8" height="2.7" fill="#00f"/>
<rect x="512.2" y="67.21" width="27.9" height="2.7" fill="#f00"/>
<rect x="512.2" y="69.91" width="29.9" height="2.7" fill="#000"/>
<rect x="512.2" y="74.59" width="5" height="2.7" fill="#00f"/>
<rect x="512.2" y="77.29" width="23.1" height="2.7" fill="#f00"/>
<rect x="512.2" y="79.99" width="21.8" height="2.7" fill="#000"/>
<rect x="507.1" y="84.67" width="5.1" height="2.7" fill="#00f"/>
<rect x="512.2" y="94.75" width="2.4" height="2.7" fill="#00f"/>
<rect x="510" y="97.45" width="2.2" height="2.7" fill="#f00"/>
<rect x="503.5" y="104.83" width="8.7" height="2.7" fill="#00f"/>
<rect x="507.1" y="120.31" width="5.1" height="2.7" fill="#000"/>
<rect x="503.5" y="130.39" width="8.7" height="2.7" fill="#000"/>
<rect x="490.6" y="135.07" width="21.6" height="2.7" fill="#00f"/>
<rect x="512.2" y="145.15" width="1.7" height="2.7" fill="#00f"/>
<rect x="512.2" y="155.23" width="4.6" height="2.7" fill="#00f"/>
<rect x="512.2" y="168.01" width="10.2" height="2.7" fill="#f00"/>
<rect x="494.2" y="175.39" width="18" height="2.7" fill="#00f"/>
<rect x="492.3" y="185.47" width="19.9" height="2.7" fill="#00f"/>
<rect x="493.9" y="195.55" width="18.3" height="2.7" fill="#00f"/>
<rect x="512.2" y="205.63" width="1.7" height="2.7" fill="#00f"/>
<rect x="512.2" y="218.41" width="11.5" height="2.7" fill="#f00"/>
<rect x="512.2" y="221.11" width="11.5" height="2.7" fill="#000"/>
<rect x="505.6" y="231.19" width="6.6" height="2.7" fill="#000"/>
<rect x="512.2" y="241.27" width="1.7" height="2.7" fill="#000"/>
<rect x="495.2" y="245.95" width="17" height="2.7" fill="#00f"/>
<rect x="507.4" y="251.35" width="4.8" height="2.7" fill="#000"/>
<rect x="508.7" y="261.43" width="3.5" height="2.7" fill="#000"/>
<rect x="505.6" y="268.81" width="6.6" height="2.7" fill="#f00"/>
<rect x="505.6" y="271.51" width="6.6" height="2.7" fill="#000"/>
<rect x="512.2" y="276.19" width="11.5" height="2.7" fill="#00f"/>
<rect x="503.9" y="278.89" width="8.3" height="2.7" fill="#f00"/>
<rect x="503.9" y="281.59" width="8.3" height="2.7" fill="#000"/>
<rect x="510.3" y="286.27" width="1.9" height="2.7" fill="#00f"/>
<rect x="512.2" y="288.97" width="6.6" height="2.7" fill="#f00"/>
<rect x="512.2" y="291.67" width="6.6" height="2.7" fill="#000"/>
<rect x="509.1" y="296.35" width="3.1" height="2.7" fill="#00f"/>
<rect x="512.2" y="299.05" width="3.7" height="2.7" fill="#f00"/>
<rect x="512.2" y="301.75" width="3.7" height="2.7" fill="#000"/>
<rect x="512.2" y="309.13" width="12.4" height="2.7" fill="#f00"/>
<rect x="512.2" y="311.83" width="12" height="2.7" fill="#000"/>
<rect x="512.2" y="316.51" width="16.9" height="2.7" fill="#00f"/>
<rect x="512.2" y="319.21" width="30.1" height="2.7" fill="#f00"/>
<rect x="496.5" y="326.59" width="15.7" height="2.7" fill="#00f"/>
<rect x="512.2" y="336.67" width="13.7" height="2.7" fill="#00f"/>
<rect x="512.2" y="339.37" width="3.7" height="2.7" fill="#f00"/>
<rect x="512.2" y="342.07" width="4.3" height="2.7" fill="#000"/>
<rect x="512.2" y="356.83" width="12" height="2.7" fill="#00f"/>
<rect x="512.2" y="366.91" width="10.7" height="2.7" fill="#00f"/>
<rect x="512.2" y="369.61" width="27" height="2.7" fill="#f00"/>
<rect x="512.2" y="372.31" width="26.6" height="2.7" fill="#000"/>
<rect x="512.2" y="376.99" width="16.9" height="2.7" fill="#00f"/>
<rect x="508.4" y="387.07" width="3.8" height="2.7" fill="#00f"/>
<rect x="505.2" y="397.15" width="7" height="2.7" fill="#00f"/>
<rect x="510.3" y="417.31" width="1.9" height="2.7" fill="#00f"/>
<rect x="512.2" y="420.01" width="5" height="2.7" fill="#f00"/>
<rect x="508.4" y="430.09" width="3.8" height="2.7" fill="#f00"/>
<rect x="512.2" y="432.79" width="7.6" height="2.7" fill="#000"/>
<rect x="512.2" y="442.87" width="8.1" height="2.7" fill="#000"/>
<rect x="498.3" y="447.55" width="13.9" height="2.7" fill="#00f"/>
<rect x="512.2" y="470.41" width="3.7" height="2.7" fill="#f00"/>
<rect x="512.2" y="473.11" width="3.3" height="2.7" fill="#000"/>
<rect x="512.2" y="483.19" width="11.5" height="2.7" fill="#000"/>
<rect x="509.5" y="493.27" width="2.7" height="2.7" fill="#000"/>
<path d="M479.8 58.48h2M544.6 58.48h-2M479.8 68.56h2M544.6 68.56h-2M479.8 78.64h2M544.6 78.64h-2M479.8 88.72h2M544.6 88.72h-2M479.8 98.8h2M544.6 98.8h-2M479.8 108.88h2M544.6 108.88h-2M479.8 118.96h2M544.6 118.96h-2M479.8 129.04h2M544.6 129.04h-2M479.8 139.12h2M544.6 139.12h-2M479.8 149.2h2M544.6 149.2h-2M479.8 159.28h2M544.6 159.28h-2M479.8 169.36h2M544.6 169.36h-2M479.8 179.44h2M544.6 179.44h-2M479.8 189.52h2M544.6 189.52h-2M479.8 199.6h2M544.6 199.6h-2M479.8 209.68h2M544.6 209.68h-2M479.8 219.76h2M544.6 219.76h-2M479.8 229.84h2M544.6 229.84h-2M479.8 239.92h2M544.6 239.92h-2M479.8 250h2M544.6 250h-2M479.8 260.08h2M544.6 260.08h-2M479.8 270.16h2M544.6 270.16h-2M479.8 280.24h2M544.6 280.24h-2M479.8 290.32h2M544.6 290.32h-2M479.8 300.4h2M544.6 300.4h-2M479.8 310.48h2M544.6 310.48h-2M479.8 320.56h2M544.6 320.56h-2M479.8 330.64h2M544.6 330.64h-2M479.8 340.72h2M544.6 340.72h-2M479.8 350.8h2M544.6 350.8h-2M479.8 360.88h2M544.6 360.88h-2M479.8 370.96h2M544.6 370.96h-2M479.8 381.04h2M544.6 381.04h-2M479.8 391.12h2M544.6 391.12h-2M479.8 401.2h2M544.6 401.2h-2M479.8 411.28h2M544.6 411.28h-2M479.8 421.36h2M544.6 421.36h-2M479.8 431.44h2M544.6 431.44h-2M479.8 441.52h2M544.6 441.52h-2M479.8 451.6h2M544.6 451.6h-2M479.8 461.68h2M544.6 461.68h-2M479.8 471.76h2M544.6 471.76h-2M479.8 481.84h2M544.6 481.84h-2M479.8 491.92h2M544.6 491.92h-2" stroke="#000" stroke-width="0.8" fill="none"/>
<path d="M512.2 48.7V501.9" stroke="#000" stroke-width="2"/>
<rect x="479.8" y="48.7" width="64.8" height="453.2" fill="none" stroke="#000" stroke-width="2"/>
<text x="480.4" y="512.3" font-size="10" font-weight="bold" text-anchor="middle" fill="#000" stroke="#000" stroke-width="0.2">−4</text>
<text x="496.6" y="512.3" font-size="10" font-weight="bold" text-anchor="middle" fill="#000" stroke="#000" stroke-width="0.2">−2</text>
<text x="512.2" y="512.3" font-size="10" font-weight="bold" text-anchor="middle" fill="#000" stroke="#000" stroke-width="0.2">0</text>
<text x="527.8" y="512.3" font-size="10" font-weight="bold" text-anchor="middle" fill="#000" stroke="#000" stroke-width="0.2">2</text>
<text x="544" y="512.3" font-size="10" font-weight="bold" text-anchor="middle" fill="#000" stroke="#000" stroke-width="0.2">4</text>
<text x="512.2" y="529" font-size="10.8" font-weight="bold" text-anchor="middle" fill="#000">Up / mm</text>
<g transform="translate(102.5,0) scale(0.96,1)">
<text x="0" y="60.95" font-size="8.3" font-weight="bold" text-anchor="end" fill="#111" stroke="#111" stroke-width="0.25" xml:space="preserve">TRM59900.00     SCIS</text>
<text x="0" y="71.05" font-size="8.3" font-weight="bold" text-anchor="end" fill="#111" stroke="#111" stroke-width="0.25" xml:space="preserve">TRM59800.00     SCIS</text>
<text x="0" y="81.14" font-size="8.3" font-weight="bold" text-anchor="end" fill="#111" stroke="#111" stroke-width="0.25" xml:space="preserve">TRM59800.00     NONE</text>
<text x="0" y="91.24" font-size="8.3" font-weight="bold" text-anchor="end" fill="#111" stroke="#111" stroke-width="0.25" xml:space="preserve">TRM57971.00     TZGD</text>
<text x="0" y="101.33" font-size="8.3" font-weight="bold" text-anchor="end" fill="#111" stroke="#111" stroke-width="0.25" xml:space="preserve">TRM57971.00     NONE</text>
<text x="0" y="111.43" font-size="8.3" font-weight="bold" text-anchor="end" fill="#111" stroke="#111" stroke-width="0.25" xml:space="preserve">TRM55971.00     TZGD</text>
<text x="0" y="121.52" font-size="8.3" font-weight="bold" text-anchor="end" fill="#111" stroke="#111" stroke-width="0.25" xml:space="preserve">TRM41249.00     NONE</text>
<text x="0" y="131.62" font-size="8.3" font-weight="bold" text-anchor="end" fill="#111" stroke="#111" stroke-width="0.25" xml:space="preserve">TRM33429.20+GP  NONE</text>
<text x="0" y="141.71" font-size="8.3" font-weight="bold" text-anchor="end" fill="#111" stroke="#111" stroke-width="0.25" xml:space="preserve">TRM29659.00     NONE</text>
<text x="0" y="151.81" font-size="8.3" font-weight="bold" text-anchor="end" fill="#111" stroke="#111" stroke-width="0.25" xml:space="preserve">TRM115000.00    NONE</text>
<text x="0" y="161.9" font-size="8.3" font-weight="bold" text-anchor="end" fill="#111" stroke="#111" stroke-width="0.25" xml:space="preserve">TPSCR.G5C       NONE</text>
<text x="0" y="172" font-size="8.3" font-weight="bold" text-anchor="end" fill="#111" stroke="#111" stroke-width="0.25" xml:space="preserve">TPSCR.G5        TPSH</text>
<text x="0" y="182.09" font-size="8.3" font-weight="bold" text-anchor="end" fill="#111" stroke="#111" stroke-width="0.25" xml:space="preserve">TPSCR.G3        TPSH</text>
<text x="0" y="192.19" font-size="8.3" font-weight="bold" text-anchor="end" fill="#111" stroke="#111" stroke-width="0.25" xml:space="preserve">TPSCR.G3        SCIS</text>
<text x="0" y="202.28" font-size="8.3" font-weight="bold" text-anchor="end" fill="#111" stroke="#111" stroke-width="0.25" xml:space="preserve">TPSCR.G3        NONE</text>
<text x="0" y="212.38" font-size="8.3" font-weight="bold" text-anchor="end" fill="#111" stroke="#111" stroke-width="0.25" xml:space="preserve">SEPCHOKE_B3E6   SPKE</text>
<text x="0" y="222.47" font-size="8.3" font-weight="bold" text-anchor="end" fill="#111" stroke="#111" stroke-width="0.25" xml:space="preserve">NOV702GG        NONE</text>
<text x="0" y="232.56" font-size="8.3" font-weight="bold" text-anchor="end" fill="#111" stroke="#111" stroke-width="0.25" xml:space="preserve">LEIMNA950GG     NONE</text>
<text x="0" y="242.66" font-size="8.3" font-weight="bold" text-anchor="end" fill="#111" stroke="#111" stroke-width="0.25" xml:space="preserve">LEIATX1230+GNSS NONE</text>
<text x="0" y="252.75" font-size="8.3" font-weight="bold" text-anchor="end" fill="#111" stroke="#111" stroke-width="0.25" xml:space="preserve">LEIAT504GG      NONE</text>
<text x="0" y="262.85" font-size="8.3" font-weight="bold" text-anchor="end" fill="#111" stroke="#111" stroke-width="0.25" xml:space="preserve">LEIAT504        NONE</text>
<text x="0" y="272.94" font-size="8.3" font-weight="bold" text-anchor="end" fill="#111" stroke="#111" stroke-width="0.25" xml:space="preserve">LEIAR25.R4      LEIT</text>
<text x="0" y="283.04" font-size="8.3" font-weight="bold" text-anchor="end" fill="#111" stroke="#111" stroke-width="0.25" xml:space="preserve">LEIAR25.R4      NONE</text>
<text x="0" y="293.13" font-size="8.3" font-weight="bold" text-anchor="end" fill="#111" stroke="#111" stroke-width="0.25" xml:space="preserve">LEIAR25.R3      LEIT</text>
<text x="0" y="303.23" font-size="8.3" font-weight="bold" text-anchor="end" fill="#111" stroke="#111" stroke-width="0.25" xml:space="preserve">LEIAR25.R3      NONE</text>
<text x="0" y="313.33" font-size="8.3" font-weight="bold" text-anchor="end" fill="#111" stroke="#111" stroke-width="0.25" xml:space="preserve">LEIAR25         LEIT</text>
<text x="0" y="323.42" font-size="8.3" font-weight="bold" text-anchor="end" fill="#111" stroke="#111" stroke-width="0.25" xml:space="preserve">LEIAR20         LEIM</text>
<text x="0" y="333.51" font-size="8.3" font-weight="bold" text-anchor="end" fill="#111" stroke="#111" stroke-width="0.25" xml:space="preserve">LEIAR20         NONE</text>
<text x="0" y="343.61" font-size="8.3" font-weight="bold" text-anchor="end" fill="#111" stroke="#111" stroke-width="0.25" xml:space="preserve">LEIAR10         NONE</text>
<text x="0" y="353.7" font-size="8.3" font-weight="bold" text-anchor="end" fill="#111" stroke="#111" stroke-width="0.25" xml:space="preserve">JAVRINGANT_G5T  JAVC</text>
<text x="0" y="363.8" font-size="8.3" font-weight="bold" text-anchor="end" fill="#111" stroke="#111" stroke-width="0.25" xml:space="preserve">JAVRINGANT_DM   SCIS</text>
<text x="0" y="373.89" font-size="8.3" font-weight="bold" text-anchor="end" fill="#111" stroke="#111" stroke-width="0.25" xml:space="preserve">JAVRINGANT_DM   NONE</text>
<text x="0" y="383.99" font-size="8.3" font-weight="bold" text-anchor="end" fill="#111" stroke="#111" stroke-width="0.25" xml:space="preserve">JAV_GRANT-G3T   NONE</text>
<text x="0" y="394.09" font-size="8.3" font-weight="bold" text-anchor="end" fill="#111" stroke="#111" stroke-width="0.25" xml:space="preserve">CHCC220GR2      CHCD</text>
<text x="0" y="404.18" font-size="8.3" font-weight="bold" text-anchor="end" fill="#111" stroke="#111" stroke-width="0.25" xml:space="preserve">ASH701945E_M    SCIS</text>
<text x="0" y="414.28" font-size="8.3" font-weight="bold" text-anchor="end" fill="#111" stroke="#111" stroke-width="0.25" xml:space="preserve">ASH701945E_M    NONE</text>
<text x="0" y="424.37" font-size="8.3" font-weight="bold" text-anchor="end" fill="#111" stroke="#111" stroke-width="0.25" xml:space="preserve">ASH701945C_M    NONE</text>
<text x="0" y="434.47" font-size="8.3" font-weight="bold" text-anchor="end" fill="#111" stroke="#111" stroke-width="0.25" xml:space="preserve">ASH700936E      NONE</text>
<text x="0" y="444.56" font-size="8.3" font-weight="bold" text-anchor="end" fill="#111" stroke="#111" stroke-width="0.25" xml:space="preserve">ASH700936D_M    SNOW</text>
<text x="0" y="454.66" font-size="8.3" font-weight="bold" text-anchor="end" fill="#111" stroke="#111" stroke-width="0.25" xml:space="preserve">ASH700936D_M    SCIS</text>
<text x="0" y="464.75" font-size="8.3" font-weight="bold" text-anchor="end" fill="#111" stroke="#111" stroke-width="0.25" xml:space="preserve">ASH700936D_M    NONE</text>
<text x="0" y="474.85" font-size="8.3" font-weight="bold" text-anchor="end" fill="#111" stroke="#111" stroke-width="0.25" xml:space="preserve">ASH700936C_M    SNOW</text>
<text x="0" y="484.94" font-size="8.3" font-weight="bold" text-anchor="end" fill="#111" stroke="#111" stroke-width="0.25" xml:space="preserve">ASH700936C_M    NONE</text>
<text x="0" y="495.04" font-size="8.3" font-weight="bold" text-anchor="end" fill="#111" stroke="#111" stroke-width="0.25" xml:space="preserve">AOAD/M_T        NONE</text>
</g>
<rect x="12.4" y="503.2" width="78.1" height="43" fill="#fff" stroke="#555" stroke-width="1"/>
<rect x="14.8" y="505.6" width="23.3" height="11.1" fill="#000"/>
<text x="41.7" y="515.5" font-size="10.6" font-weight="bold" fill="#000" stroke="#000" stroke-width="0.15">igs05.atx</text>
<rect x="14.8" y="519.35" width="23.3" height="11.1" fill="#f00"/>
<text x="41.7" y="529.25" font-size="10.6" font-weight="bold" fill="#000" stroke="#000" stroke-width="0.15">igs08.atx</text>
<rect x="14.8" y="533.1" width="23.3" height="11.1" fill="#00f"/>
<text x="41.7" y="543" font-size="10.6" font-weight="bold" fill="#000" stroke="#000" stroke-width="0.15">igsR3.atx</text>
</svg></body></html>
